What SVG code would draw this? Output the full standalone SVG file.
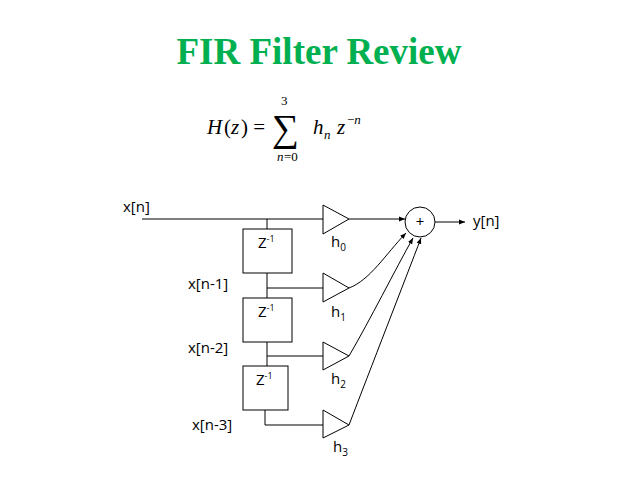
<svg xmlns="http://www.w3.org/2000/svg" width="638" height="478" viewBox="0 0 638 478">
<defs>
<marker id="ah" viewBox="0 0 10 10" refX="10" refY="5" markerWidth="6" markerHeight="6" orient="auto"><path d="M0,1 L10,5 L0,9 z" fill="#000"/></marker>
<style>
.l{stroke:#000;stroke-width:1;fill:none}
.s{stroke:#000;stroke-width:1;fill:#fff}
.t{font-family:"Open Sans","Liberation Sans",sans-serif;font-size:15px;fill:#000}
.m{font-family:"Liberation Serif",serif;font-style:italic;fill:#000}
</style>
</defs>
<rect width="638" height="478" fill="#fff"/>
<text x="319" y="64" text-anchor="middle" font-family="Liberation Serif,serif" font-weight="bold" font-size="37" fill="#00b050">FIR Filter Review</text>
<g id="formula">
<text class="m" x="207" y="134" font-size="21">H</text>
<text x="224" y="134" font-family="Liberation Serif,serif" font-size="21">(</text>
<text class="m" x="231" y="134" font-size="21">z</text>
<text x="241" y="134" font-family="Liberation Serif,serif" font-size="21">) =</text>
<text x="272" y="141" font-family="Liberation Serif,serif" font-size="38">∑</text>
<text x="281" y="105" font-family="Liberation Serif,serif" font-size="13">3</text>
<text class="m" x="277" y="161" font-size="13">n</text>
<text x="284" y="161" font-family="Liberation Serif,serif" font-size="13">=0</text>
<text class="m" x="313" y="134" font-size="21">h</text>
<text class="m" x="324" y="139" font-size="13">n</text>
<text class="m" x="337" y="134" font-size="21">z</text>
<text x="347" y="124" font-family="Liberation Serif,serif" font-size="13">−<tspan font-style="italic">n</tspan></text>
</g>
<g id="connectors">
<path class="l" d="M142,219 H323"/>
<path class="l" d="M267,219 V229 M267,273 V298 M267,288 H323 M267,342 V366 M267,356 H323 M265,410 V425 H323"/>
<path class="l" d="M349,219 H405" marker-end="url(#ah)"/>
<path class="l" d="M349,288 C370,280 385,255 406,233" marker-end="url(#ah)"/>
<path class="l" d="M349,356 C370,320 395,270 413,238" marker-end="url(#ah)"/>
<path class="l" d="M349,425 C370,370 405,280 421,238" marker-end="url(#ah)"/>
<path class="l" d="M435,222 H465" marker-end="url(#ah)"/>
</g>
<g id="z1"><rect class="s" x="243" y="229" width="49" height="44"/><text class="t" x="258" y="248" font-size="14">Z<tspan font-size="9" dy="-6">-1</tspan></text></g>
<g id="z2"><rect class="s" x="243" y="298" width="49" height="44"/><text class="t" x="258" y="317" font-size="14">Z<tspan font-size="9" dy="-6">-1</tspan></text></g>
<g id="z3"><rect class="s" x="243" y="366" width="45" height="44"/><text class="t" x="256" y="385" font-size="14">Z<tspan font-size="9" dy="-6">-1</tspan></text></g>
<g id="h0"><polygon class="s" points="323,205 349,219 323,234"/><text class="t" x="331" y="247">h<tspan font-size="10" dy="4">0</tspan></text></g>
<g id="h1"><polygon class="s" points="323,273 349,288 323,302"/><text class="t" x="331" y="317">h<tspan font-size="10" dy="4">1</tspan></text></g>
<g id="h2"><polygon class="s" points="323,342 349,356 323,370"/><text class="t" x="331" y="384">h<tspan font-size="10" dy="4">2</tspan></text></g>
<g id="h3"><polygon class="s" points="323,410 349,425 323,438"/><text class="t" x="333" y="452">h<tspan font-size="10" dy="4">3</tspan></text></g>
<g id="sum"><circle class="s" cx="420" cy="222" r="15"/><text class="t" x="420" y="227" text-anchor="middle" font-size="13">+</text></g>
<g id="labels">
<text class="t" x="123" y="212">x[n]</text>
<text class="t" x="473" y="226">y[n]</text>
<text class="t" x="188" y="289">x[n-1]</text>
<text class="t" x="188" y="353">x[n-2]</text>
<text class="t" x="192" y="430">x[n-3]</text>
</g>
</svg>
